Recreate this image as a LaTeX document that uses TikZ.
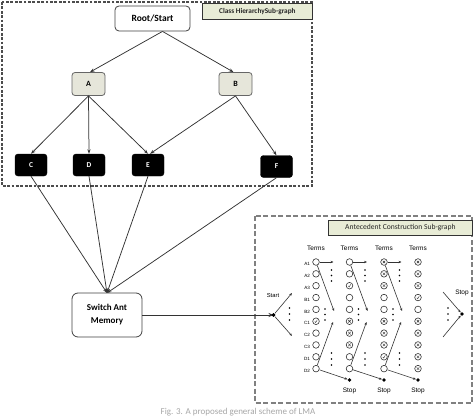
\documentclass[tikz,border=0pt]{standalone}
\usepackage{fontspec}
\setmainfont{Carlito}
\newfontfamily\arialf{Liberation Sans}
\usetikzlibrary{arrows.meta}
\definecolor{tagfill}{HTML}{E8ECD6}
\definecolor{abfill}{HTML}{E6E6DA}
\definecolor{lnc}{HTML}{333333}
\begin{document}
\begin{tikzpicture}[x=1pt,y=-1pt,
  conn/.style={draw=lnc, line width=0.75pt, -{Stealth[length=4.5pt,width=3.2pt]}},
  sarrow/.style={draw=lnc, line width=0.6pt, -{Stealth[length=3pt,width=2.4pt]}},
  plainln/.style={draw=lnc, line width=0.75pt},
  topbox/.style={draw=black!70, line width=1.8pt, dash pattern=on 2.8pt off 1.6pt},
  rightbox/.style={draw=black!50, line width=1.3pt, dash pattern=on 5pt off 2.5pt},
  tag/.style={draw=black!80, line width=0.8pt, fill=tagfill, inner sep=0pt, anchor=north west},
  whitebox/.style={draw=black!75, line width=0.8pt, fill=white, rounded corners=4pt, inner sep=0pt, font=\bfseries\fontsize{9.5}{11}\selectfont},
  abbox/.style={draw=black!60, line width=0.8pt, fill=abfill, rounded corners=3pt, minimum width=33pt, minimum height=23pt, inner sep=0pt, font=\bfseries\fontsize{8}{9}\selectfont},
  blkbox/.style={draw=black, fill=black, rounded corners=3pt, minimum width=32pt, minimum height=22pt, inner sep=0pt, text=white, font=\bfseries\fontsize{7.5}{9}\selectfont},
  term/.style={circle, draw=black!80, line width=0.6pt, minimum size=6.6pt, inner sep=0pt},
  dotn/.style={circle, fill=black, minimum size=3.6pt, inner sep=0pt},
  smalldot/.style={circle, fill=black, minimum size=1.9pt, inner sep=0pt},
  lbl/.style={font=\arialf\fontsize{6.5}{7}\selectfont, inner sep=0pt},
  rowlbl/.style={font=\arialf\fontsize{4.6}{5}\selectfont, inner sep=0pt, anchor=east},
  mk/.style={line width=0.4pt, draw=black!80}
]
\useasboundingbox (0,0) rectangle (474,420);

% ---------- top sub-graph ----------
\draw[topbox] (2,2) rectangle (312,186);
\node[tag, minimum width=110pt, minimum height=16pt] (tag1) at (202,3) {};
\node[font=\bfseries\fontsize{7.3}{8}\selectfont, text=black!85] at (tag1.center) {Class HierarchySub-graph};

\node[whitebox, minimum width=75pt, minimum height=25pt] (root) at (152.5,18.5) {Root/Start};
\node[abbox] (A) at (88.5,84) {A};
\node[abbox] (B) at (235.5,84) {B};
\node[blkbox] (C) at (31,165) {C};
\node[blkbox] (D) at (89,165) {D};
\node[blkbox] (E) at (148,165) {E};
\node[blkbox] (F) at (276.5,166.5) {F};

\draw[conn] ([xshift=10pt]root.south) -- ([xshift=1.5pt]A.north);
\draw[conn] ([xshift=10pt]root.south) -- ([xshift=-2pt]B.north);
\draw[conn] (A.south) -- (C.north);
\draw[conn] (A.south) -- (D.north);
\draw[conn] (A.south) -- (E.north);
\draw[conn] (B.south) -- ([xshift=2pt]E.north);
\draw[conn] (B.south) -- (F.north);

% ---------- switch ----------
\node[whitebox, minimum width=70pt, minimum height=44pt, rounded corners=6pt, align=center, font=\bfseries\fontsize{9}{13}\selectfont] (sw) at (107,315) {Switch Ant\\Memory};
\coordinate (swtop) at (107,293);
\draw[conn] (C.south) -- (swtop);
\draw[conn] (D.south) -- (swtop);
\draw[conn] (E.south) -- (swtop);
\draw[conn] (F.south) -- (swtop);

% ---------- right sub-graph ----------
\draw[rightbox] (255,216) rectangle (472,403);
\node[tag, minimum width=144pt, minimum height=15pt] (tag2) at (328,220) {};
\node[font=\fontsize{7.6}{8}\selectfont, text=black!85] at (tag2.center) {Antecedent Construction Sub-graph};

% start
\node[dotn] (start) at (273.5,315) {};
\draw[plainln, -{Stealth[length=5pt,width=4pt]}] (sw.east) -- (start.center);
\node[dotn] at (273.5,315) {};
\node[lbl, font=\arialf\fontsize{5.8}{6}\selectfont] at (273,295.5) {Start};
\coordinate (st1) at (292,293);
\coordinate (st2) at (292,336);
\draw[sarrow] (start) -- (st1);
\draw[sarrow] (start) -- (st2);
\foreach \yy in {308,314,320} \node[smalldot] at (289.5,\yy) {};

% terms columns
\foreach \k/\x in {1/316,2/349.5,3/384,4/418} {
  \node[lbl] at (\x,248) {Terms};
  \foreach \i in {1,...,10} {
    \node[term] (c-\k-\i) at (\x,{262+11.85*(\i-1)}) {};
  }
}
\foreach \i/\t in {1/A1,2/A2,3/A3,4/B1,5/B2,6/C1,7/C2,8/C3,9/D1,10/D2} {
  \node[rowlbl] at ([xshift=-2.2pt,yshift=-2pt]c-1-\i.west) {\t};
}
% crossed circles
\foreach \k/\i in {2/6,2/7,2/8,3/1,3/2,3/3,3/6,3/7,3/8,4/1,4/2,4/3,4/6,4/7,4/8,4/9,4/10} {
  \draw[mk] ([shift={(-1.35,-1.35)}]c-\k-\i.center) -- ([shift={(1.35,1.35)}]c-\k-\i.center)
            ([shift={(-1.35,1.35)}]c-\k-\i.center) -- ([shift={(1.35,-1.35)}]c-\k-\i.center);
}
% ticked circles
\foreach \k/\i in {1/6,2/3,3/9,4/4} {
  \draw[mk] ([shift={(-1.2,0.2)}]c-\k-\i.center) -- ([shift={(-0.3,1.3)}]c-\k-\i.center) -- ([shift={(1.3,-1.5)}]c-\k-\i.center);
}

% transitions between columns
\foreach \k/\x/\nx in {1/316/349.5,2/349.5/384,3/384/418} {
  \coordinate (h\k) at (\x+17.5,262);
  \coordinate (dn\k) at (\x+18,311);
  \coordinate (up\k) at (\x+17,322);
  \draw[sarrow] (c-\k-1) -- (h\k);
  \draw[sarrow] (c-\k-1) -- (dn\k);
  \draw[sarrow] (c-\k-10) -- (up\k);
  \node[dotn] (s\k) at (\nx,380) {};
  \draw[sarrow] (c-\k-10) -- (s\k);
  \node[lbl] at (\nx,391) {Stop};
  \foreach \yy in {270,275.5,281} \node[smalldot] at (\x+15.5,\yy) {};
  \foreach \yy in {309,314.5,320} \node[smalldot] at (\x+9,\yy) {};
  \foreach \yy in {353,359,365} \node[smalldot] at (\x+15.5,\yy) {};
}

% final stop
\node[dotn] (fstop) at (462,314) {};
\coordinate (fs1) at (443,292);
\coordinate (fs2) at (443,337);
\draw[sarrow] (fs1) -- (fstop);
\draw[sarrow] (fs2) -- (fstop);
\foreach \yy in {308,314,320} \node[smalldot] at (448,\yy) {};
\node[lbl] at (462,293) {Stop};

% caption
\node[font=\fontsize{9}{10}\selectfont, text=black!35] (cap) at (238,412) {Fig. 3. A proposed general scheme of LMA};
\end{tikzpicture}
\end{document}
